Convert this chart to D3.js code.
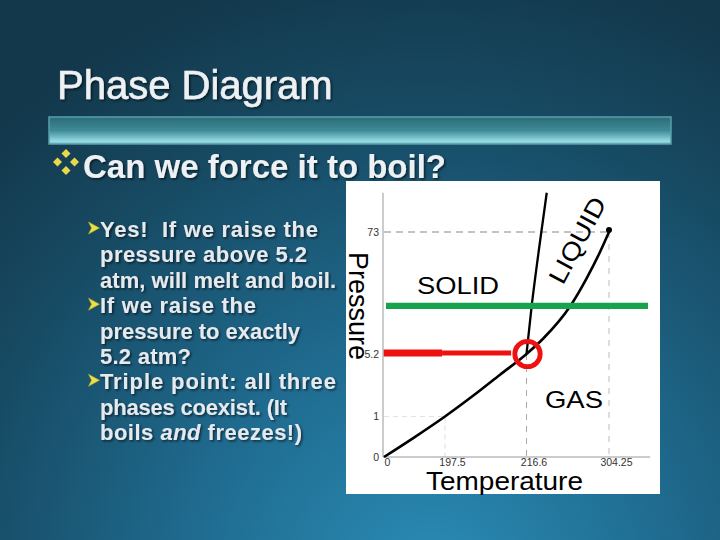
<!DOCTYPE html>
<html lang="en">
<head>
<meta charset="UTF-8">
<title>Phase Diagram</title>
<script src="https://d3js.org/d3.v7.min.js"></script>
<style>
  body { margin: 0; background: #123a4e; }
  svg { display: block; font-family: "Liberation Sans", Arial, sans-serif; }
  .pre { white-space: pre; }
</style>
</head>
<body>
<div id="slide"></div>
<script>
  // ticks of the phase diagram (the axes are not to scale)
  const xTicks = [0, 197.5, 216.6, 304.25];
  const yTicks = [0, 1, 5.2, 73];
  const xTickLabels = ["0", "197.5", "216.6", "304.25"];
  const yTickLabels = ["0", "1", "5.2", "73"];

  // sublimation + vaporization curve
  const gasT = [0, 97.1, 197.5, 204.3, 210.4, 216.6, 234.4, 262.8, 280.6, 294.7, 304.25];
  const gasP = [0, 0.48, 1, 2.44, 3.81, 5.2, 13.8, 31.6, 47.4, 61.9, 73];

  // melting curve
  const meltT = [216.6, 222.1, 230.2, 238.1];
  const meltP = [5.2, 31.9, 64.8, 94.8];

  const triplePoint = [216.6, 5.2];
  const criticalPoint = [304.25, 73];

  // the two pressure lines drawn on top
  const greenP = 32;
  const greenT = [6.5, 345.7];
  const redP = 5.2;
  const redT = [-1, 188, 213];

  const phaseNames = ["SOLID", "LIQUID", "GAS"];

  const bullets = [
    [{ t: "Yes!  If we raise the" }],
    [{ t: "pressure above 5.2" }],
    [{ t: "atm, will melt and boil." }],
    [{ t: "If we raise the" }],
    [{ t: "pressure to exactly" }],
    [{ t: "5.2 atm?" }],
    [{ t: "Triple point: all three" }],
    [{ t: "phases coexist. (It" }],
    [{ t: "boils " }, { t: "and", i: true }, { t: " freezes!)" }]
  ];
  const arrowLines = [0, 3, 6];
  // width each bullet line takes on the slide
  const bulletWidths = [218, 207, 236, 156, 200, 91, 236, 187, 202];

  const W = 720, H = 540;
  const svg = d3.select("#slide").append("svg").attr("width", W).attr("height", H);
  const defs = svg.append("defs");

  const bg = defs.append("radialGradient").attr("id", "bg")
    .attr("gradientUnits", "userSpaceOnUse")
    .attr("cx", 430).attr("cy", 580).attr("r", 620);
  bg.append("stop").attr("offset", 0).attr("stop-color", "#2a8cb6");
  bg.append("stop").attr("offset", 0.4).attr("stop-color", "#1f6a8e");
  bg.append("stop").attr("offset", 0.75).attr("stop-color", "#174b64");
  bg.append("stop").attr("offset", 1).attr("stop-color", "#13384c");

  const bar = defs.append("linearGradient").attr("id", "bar")
    .attr("x1", 0).attr("y1", 0).attr("x2", 0).attr("y2", 1);
  bar.append("stop").attr("offset", 0).attr("stop-color", "#2a6b77");
  bar.append("stop").attr("offset", 0.5).attr("stop-color", "#3e8b96");
  bar.append("stop").attr("offset", 0.8).attr("stop-color", "#7fc7d1");
  bar.append("stop").attr("offset", 0.9).attr("stop-color", "#98dce5");
  bar.append("stop").attr("offset", 1).attr("stop-color", "#70b6c1");

  const shadow = defs.append("filter").attr("id", "shadow")
    .attr("x", "-5%").attr("y", "-20%").attr("width", "110%").attr("height", "140%");
  shadow.append("feDropShadow").attr("dx", 1.5).attr("dy", 1.5)
    .attr("stdDeviation", 0.8).attr("flood-color", "#000").attr("flood-opacity", 0.6);

  svg.append("rect").attr("width", W).attr("height", H).attr("fill", "url(#bg)");

  // title and bar
  svg.append("text").attr("x", 57).attr("y", 99)
    .attr("font-size", 40).attr("fill", "#eef1f3")
    .attr("stroke", "#eef1f3").attr("stroke-width", 0.6)
    .attr("filter", "url(#shadow)").text("Phase Diagram");

  svg.append("rect").attr("x", 49).attr("y", 117).attr("width", 622).attr("height", 27)
    .attr("fill", "url(#bar)").attr("stroke", "#5a9fa9").attr("stroke-width", 1.5);

  // diamond bullet
  const dia = svg.append("g").attr("transform", "translate(66,162)");
  [[0, -8.5], [-8.5, 0], [8.5, 0], [0, 8.5]].forEach(function (o) {
    dia.append("path")
      .attr("d", `M${o[0]},${o[1] - 4.5}L${o[0] + 4.5},${o[1]}L${o[0]},${o[1] + 4.5}L${o[0] - 4.5},${o[1]}Z`)
      .attr("fill", "#ead84c");
  });

  svg.append("text").attr("x", 83).attr("y", 178)
    .attr("font-size", 33).attr("font-weight", "bold").attr("fill", "#eef1f3")
    .attr("filter", "url(#shadow)").text("Can we force it to boil?");

  // sub bullets
  const lineY = d3.scaleLinear().domain([0, 8]).range([237, 440]);
  const bt = svg.append("g").attr("font-size", 22).attr("font-weight", "bold")
    .attr("fill", "#e6eaee").attr("filter", "url(#shadow)");
  bullets.forEach(function (parts, i) {
    const t = bt.append("text").attr("class", "pre").attr("x", 100).attr("y", lineY(i))
      .attr("textLength", bulletWidths[i]).attr("lengthAdjust", "spacing");
    parts.forEach(p => t.append("tspan").attr("font-style", p.i ? "italic" : null).text(p.t));
  });
  svg.selectAll("path.arrow").data(arrowLines).enter()
    .append("path").attr("class", "arrow")
    .attr("transform", d => `translate(88.5,${lineY(d) - 9})`)
    .attr("d", "M0,-6L11,0L0,6L3,0Z")
    .attr("fill", "#e9e04a").attr("stroke", "#b8a820").attr("stroke-width", 0.6);

  // chart picture
  svg.append("rect").attr("x", 346).attr("y", 181).attr("width", 314).attr("height", 313)
    .attr("fill", "#fff");

  const x = d3.scaleLinear().domain(xTicks).range([384, 445, 526.5, 609]);
  const y = d3.scaleLinear().domain(yTicks).range([457, 416.5, 354, 232]);
  const g = svg.append("g");

  // guide lines
  g.append("line").attr("x1", x(0)).attr("x2", x(197.5)).attr("y1", y(1)).attr("y2", y(1))
    .attr("stroke", "#e2e2e2").attr("stroke-dasharray", "5,4");
  g.append("line").attr("x1", x(197.5)).attr("x2", x(197.5)).attr("y1", y(1)).attr("y2", y(0))
    .attr("stroke", "#dedede").attr("stroke-dasharray", "5,4");
  g.append("line").attr("x1", x(216.6)).attr("x2", x(216.6)).attr("y1", y(5.2)).attr("y2", y(0))
    .attr("stroke", "#aaa").attr("stroke-dasharray", "6,6");
  g.append("line").attr("x1", x(304.25)).attr("x2", x(304.25)).attr("y1", y(73)).attr("y2", y(0))
    .attr("stroke", "#bbb").attr("stroke-dasharray", "6,6");
  g.append("line").attr("x1", x(0)).attr("x2", x(304.25)).attr("y1", y(73)).attr("y2", y(73))
    .attr("stroke", "#888").attr("stroke-width", 1.2).attr("stroke-dasharray", "7,5");

  // axes
  g.append("line").attr("x1", x(0) - 1).attr("x2", x(0) - 1).attr("y1", y(0)).attr("y2", y(94.8))
    .attr("stroke", "#999");
  g.append("line").attr("x1", x(0) - 1).attr("x2", x(348)).attr("y1", y(0)).attr("y2", y(0))
    .attr("stroke", "#999");

  const xAxis = g.append("g").attr("transform", `translate(0,${y(0)})`)
    .call(d3.axisBottom(x).tickValues(xTicks).tickSize(0).tickPadding(2)
      .tickFormat((d, i) => xTickLabels[i]));
  xAxis.select(".domain").remove();
  xAxis.selectAll("text").attr("font-size", 10.5).attr("fill", "#333")
    .attr("font-family", "Liberation Sans, Arial, sans-serif")
    .attr("dx", d => d === 0 ? 3 : 7);

  const yAxis = g.append("g").attr("transform", `translate(${x(0) - 4},0)`)
    .call(d3.axisLeft(y).tickValues(yTicks).tickSize(0).tickPadding(1)
      .tickFormat((d, i) => yTickLabels[i]));
  yAxis.select(".domain").remove();
  yAxis.selectAll("text").attr("font-size", 10.5).attr("fill", "#333")
    .attr("font-family", "Liberation Sans, Arial, sans-serif");

  // phase boundaries
  const line = d3.line().x(d => x(d[0])).y(d => y(d[1])).curve(d3.curveMonotoneX);
  g.append("path").datum(d3.zip(gasT, gasP)).attr("d", line)
    .attr("fill", "none").attr("stroke", "#000").attr("stroke-width", 2.6);
  const mline = d3.line().x(d => x(d[0])).y(d => y(d[1])).curve(d3.curveMonotoneY);
  g.append("path").datum(d3.zip(meltT, meltP)).attr("d", mline)
    .attr("fill", "none").attr("stroke", "#000").attr("stroke-width", 2.3);
  g.append("circle").attr("cx", x(criticalPoint[0])).attr("cy", y(criticalPoint[1]) - 2)
    .attr("r", 3).attr("fill", "#000");

  // labels
  const lab = g.append("g").attr("fill", "#000").attr("font-size", 24);
  lab.append("text").attr("x", 417).attr("y", 294).attr("textLength", 82)
    .attr("lengthAdjust", "spacingAndGlyphs").text(phaseNames[0]);
  lab.append("text").attr("transform", "translate(577,240) rotate(-62)")
    .attr("text-anchor", "middle").attr("dominant-baseline", "central")
    .attr("font-size", 25).attr("textLength", 94).attr("lengthAdjust", "spacingAndGlyphs")
    .text(phaseNames[1]);
  lab.append("text").attr("x", 545).attr("y", 408).attr("textLength", 58)
    .attr("lengthAdjust", "spacingAndGlyphs").text(phaseNames[2]);
  lab.append("text").attr("x", 426).attr("y", 490).attr("font-size", 26)
    .attr("textLength", 157).attr("lengthAdjust", "spacingAndGlyphs").text("Temperature");
  lab.append("text").attr("transform", "translate(349,252) rotate(90)")
    .attr("font-size", 27).attr("textLength", 108).attr("lengthAdjust", "spacingAndGlyphs")
    .text("Pressure");

  // pressure lines and triple point marker
  g.append("line").attr("x1", x(greenT[0])).attr("x2", x(greenT[1]))
    .attr("y1", y(greenP)).attr("y2", y(greenP))
    .attr("stroke", "#17a24c").attr("stroke-width", 6.3);
  g.append("line").attr("x1", x(redT[0])).attr("x2", x(redT[1]))
    .attr("y1", y(redP) - 1).attr("y2", y(redP) - 1)
    .attr("stroke", "#ee1111").attr("stroke-width", 6.8);
  g.append("line").attr("x1", x(redT[1])).attr("x2", x(redT[2]))
    .attr("y1", y(redP) - 1).attr("y2", y(redP) - 1)
    .attr("stroke", "#ee1111").attr("stroke-width", 5);
  g.append("circle").attr("cx", x(triplePoint[0]) + 1).attr("cy", y(triplePoint[1]))
    .attr("r", 12.7).attr("fill", "none").attr("stroke", "#ee1111").attr("stroke-width", 4.8);
</script>
</body>
</html>
